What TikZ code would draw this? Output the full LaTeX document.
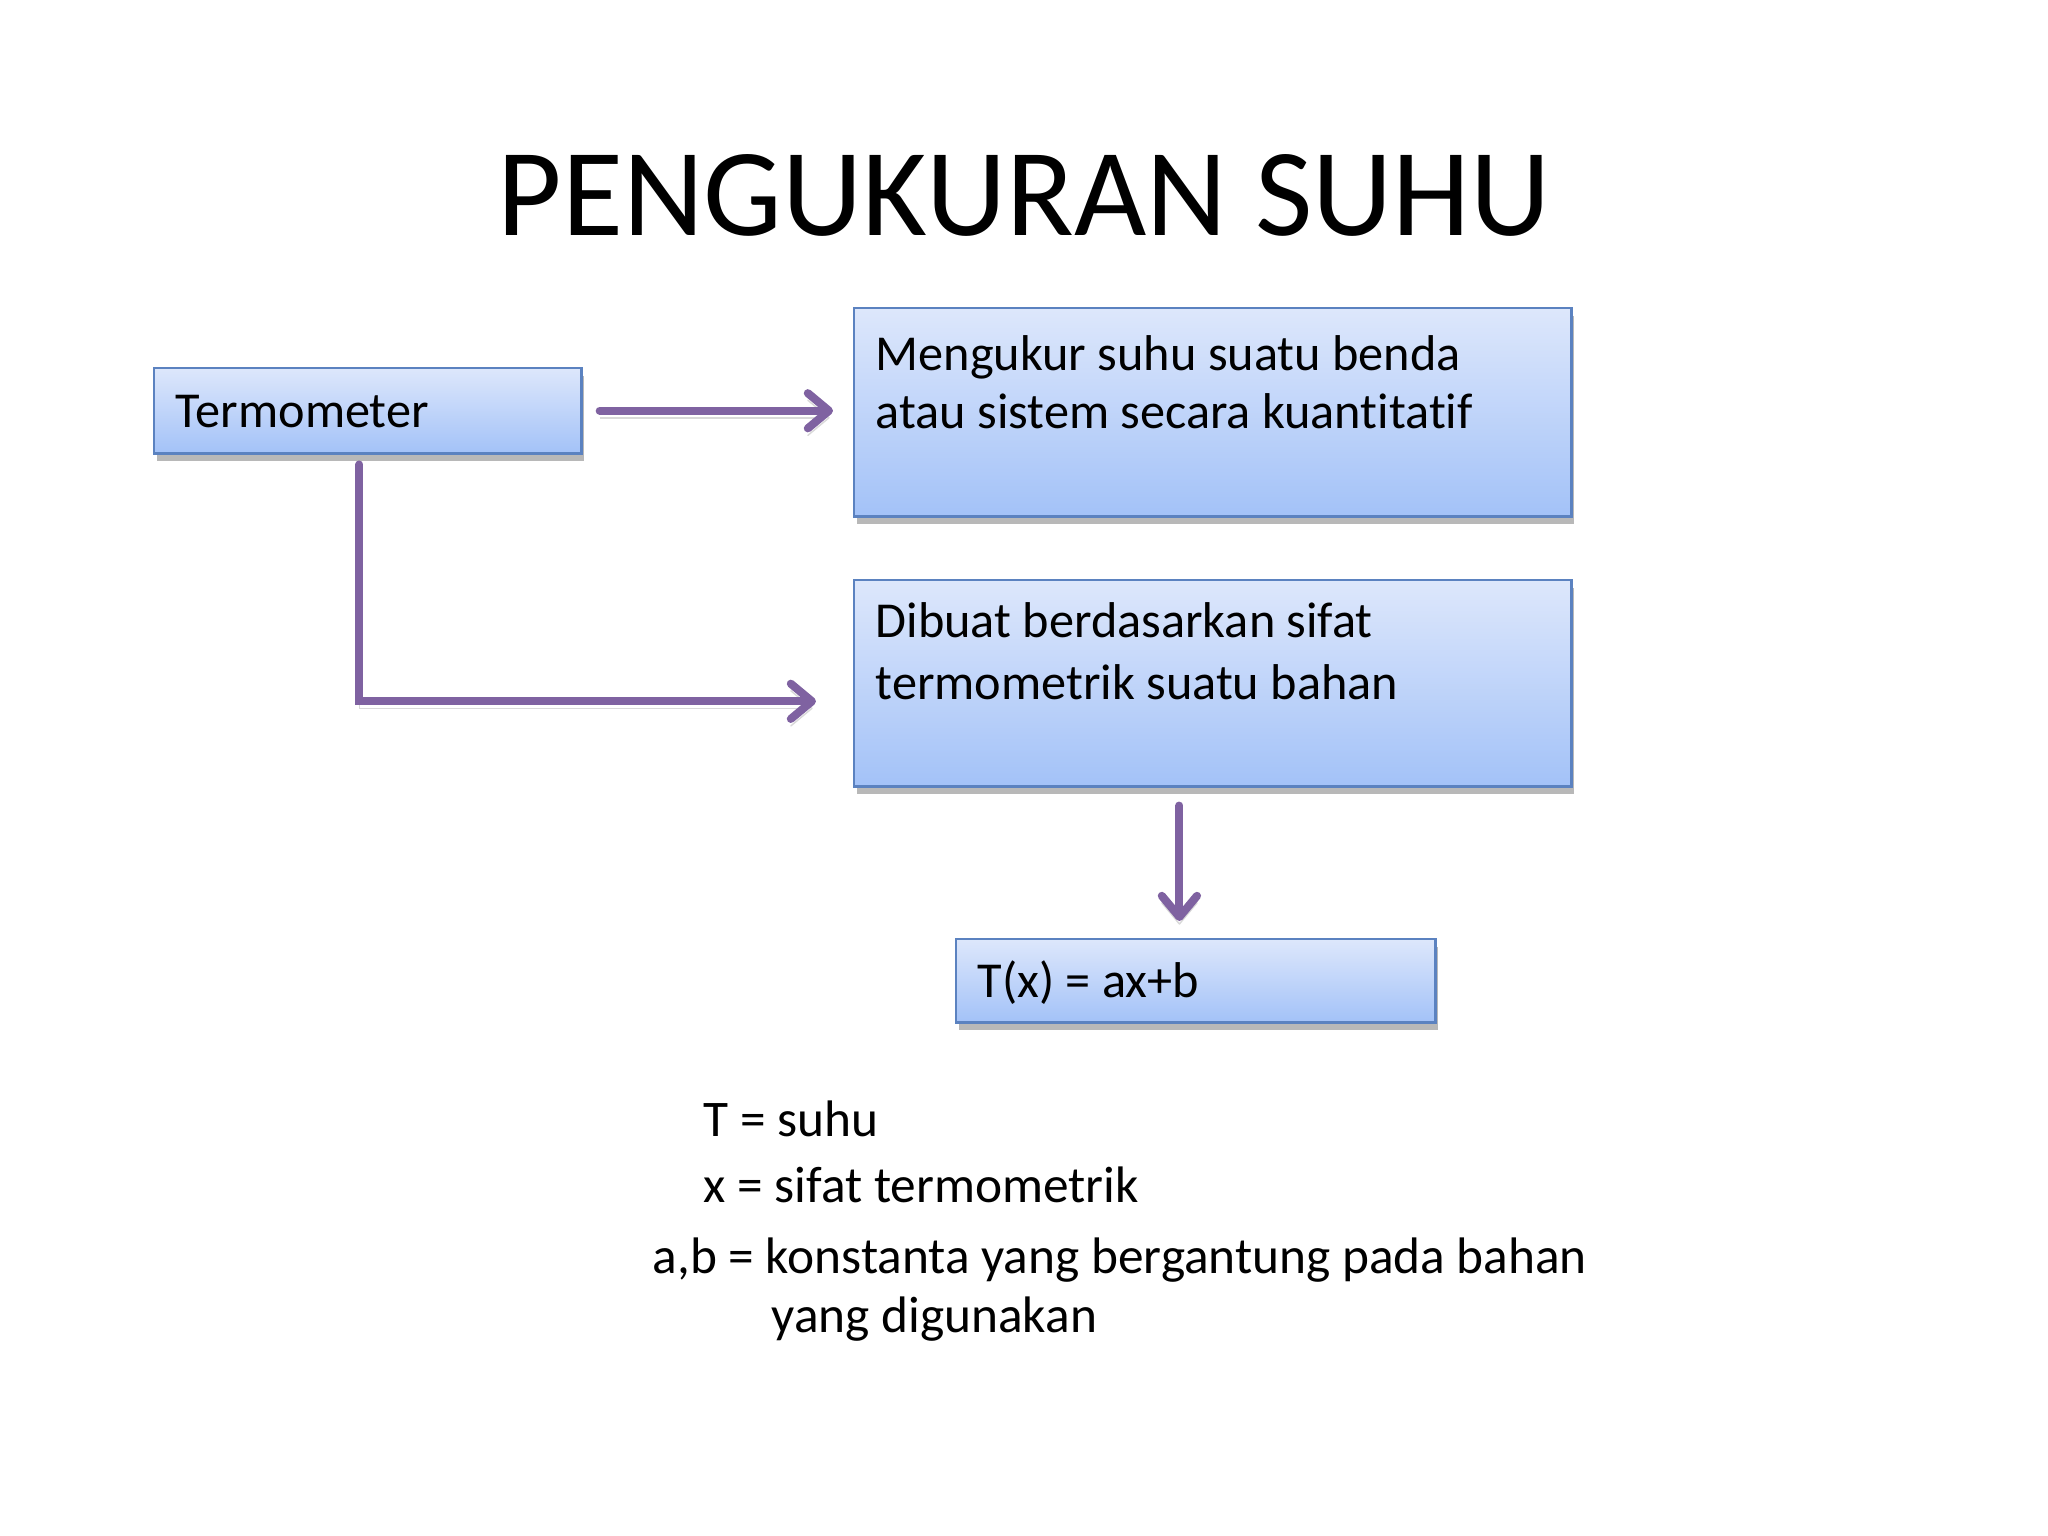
\documentclass[tikz,border=0pt]{standalone}
\usepackage{fontspec}
\setmainfont{Carlito}[Ligatures=NoCommon]
\usetikzlibrary{arrows.meta,shadows,calc}
\definecolor{boxtop}{HTML}{DDE7FB}
\definecolor{boxbot}{HTML}{A3C2F8}
\definecolor{boxline}{HTML}{5B82C0}
\definecolor{arrowc}{HTML}{7F62A1}
\tikzset{
  bluebox/.style={rectangle, draw=boxline, line width=0.7pt, top color=boxtop, bottom color=boxbot,
    inner sep=0pt, anchor=north west,
    drop shadow={shadow xshift=0.8pt, shadow yshift=-2.2pt, fill=black, opacity=0.28}},
  boxtext/.style={anchor=base west, inner sep=0pt, font=\fontsize{14.3}{17}\selectfont},
  notetext/.style={anchor=base west, inner sep=0pt, font=\fontsize{14.6}{17.5}\selectfont},
  conn/.style={draw=arrowc, line width=2.3pt, line cap=round, line join=miter,
    -{Straight Barb[length=6pt,width=10pt,round]},
    preaction={draw=black!15, transform canvas={yshift=-2pt}}},
}
\begin{document}
\begin{tikzpicture}[x=0.01cm,y=-0.01cm]
\useasboundingbox (0,0) rectangle (2048,1536);
\fill[white] (0,0) rectangle (2048,1536);

\node[anchor=base, inner sep=0pt, font=\fontsize{35.5}{42}\selectfont] (title) at (1024,235) {PENGUKURAN SUHU};

\node[bluebox, minimum width=4.27cm, minimum height=0.85cm] (termo) at (153,367) {};
\node[bluebox, minimum width=7.17cm, minimum height=2.08cm] (box1) at (853,307) {};
\node[bluebox, minimum width=7.17cm, minimum height=2.06cm] (box2) at (853,579) {};
\node[bluebox, minimum width=4.79cm, minimum height=0.83cm] (tbox) at (955,938) {};

\node[boxtext] (ttermo) at (175,427) {Termometer};
\node[boxtext] (tb1a) at (875,370) {Mengukur suhu suatu benda};
\node[boxtext] (tb1b) at (875,428) {atau sistem secara kuantitatif};
\node[boxtext] (tb2a) at (875,637) {Dibuat berdasarkan sifat};
\node[boxtext] (tb2b) at (875,699) {termometrik suatu bahan};
\node[boxtext] (ttx) at (977,997) {T(x) = ax+b};

\draw[conn, shorten <=0.17cm, shorten >=0.2cm] (termo.east) -- (termo.east -| box1.west);
\draw[conn, shorten <=0.1cm, shorten >=0.37cm] ([xshift=-0.085cm]termo.south) |- ([yshift=-0.18cm]box2.west);
\draw[conn, shorten <=0.18cm, shorten >=0.17cm] ([xshift=-0.335cm]box2.south) -- ([xshift=-0.335cm]box2.south |- tbox.north);

\node[notetext] (n1) at (703,1136) {T = suhu};
\node[notetext] (n2) at (703,1202) {x = sifat termometrik};
\node[notetext] (n3) at (652,1273) {a,b = konstanta yang bergantung pada bahan};
\node[notetext] (n4) at (771,1332) {yang digunakan};
\end{tikzpicture}
\end{document}
